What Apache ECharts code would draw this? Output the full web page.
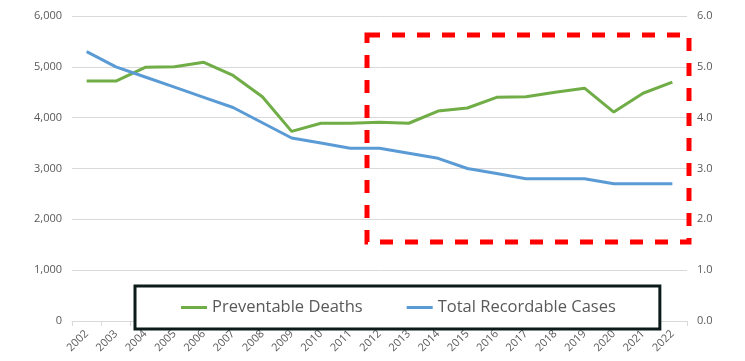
<!DOCTYPE html>
<html><head><meta charset="utf-8">
<script src="https://cdn.jsdelivr.net/npm/echarts@6/dist/echarts.min.js"></script>
<style>html,body{margin:0;padding:0;background:#fff}#c{width:745px;height:361px}</style>
</head><body><div id="c"></div>
<script>
const years = ['2002','2003','2004','2005','2006','2007','2008','2009','2010','2011','2012','2013','2014','2015','2016','2017','2018','2019','2020','2021','2022'];
const preventableDeaths = [4720,4720,4990,5000,5090,4830,4410,3730,3890,3890,3910,3890,4130,4190,4400,4410,4500,4580,4110,4480,4700];
const totalRecordableCases = [5.3,5.0,4.8,4.6,4.4,4.2,3.9,3.6,3.5,3.4,3.4,3.3,3.2,3.0,2.9,2.8,2.8,2.8,2.7,2.7,2.7];

const chart = echarts.init(document.getElementById('c'), null, {renderer:'canvas'});
const font = 'Open Sans';
chart.setOption({
  animation:false,
  backgroundColor:'#fff',
  grid:{left:72,right:58,top:16,bottom:40,containLabel:false},
  xAxis:{type:'category',data:years,boundaryGap:true,
    axisLine:{lineStyle:{color:'#d9d9d9',width:1}},
    axisTick:{show:true,length:5,lineStyle:{color:'#d9d9d9'}},
    axisLabel:{rotate:45,color:'#595959',fontFamily:font,fontSize:11,margin:11,interval:0}},
  yAxis:[
    {type:'value',min:0,max:6000,interval:1000,
     axisLine:{show:false},axisTick:{show:false},
     splitLine:{lineStyle:{color:'#d9d9d9'}},
     axisLabel:{color:'#595959',fontFamily:font,fontSize:11,margin:10,
       formatter:v=>v.toLocaleString('en-US')}},
    {type:'value',min:0,max:6,interval:1,position:'right',
     axisLine:{show:false},axisTick:{show:false},splitLine:{show:false},
     axisLabel:{color:'#595959',fontFamily:font,fontSize:11,margin:10,
       formatter:v=>v.toFixed(1)}}
  ],
  legend:{left:135,top:286,orient:'horizontal',
    borderColor:'#0d1a1a',borderWidth:3,backgroundColor:'#fff',
    padding:[13,44,13,46],itemGap:44,itemWidth:26,itemHeight:3,icon:'rect',
    textStyle:{color:'#595959',fontFamily:font,fontSize:16.5},
    data:['Preventable Deaths','Total Recordable Cases']},
  series:[
    {name:'Preventable Deaths',type:'line',data:preventableDeaths,yAxisIndex:0,
     symbol:'none',lineStyle:{color:'#70ad47',width:3},itemStyle:{color:'#70ad47'}},
    {name:'Total Recordable Cases',type:'line',data:totalRecordableCases,yAxisIndex:1,
     symbol:'none',lineStyle:{color:'#5b9bd5',width:3},itemStyle:{color:'#5b9bd5'}}
  ],
  graphic:[{type:'rect',z:10,shape:{x:367,y:35,width:322,height:207},
    style:{fill:'none',stroke:'#ff0000',lineWidth:5,lineDash:[13,12]}}]
});
</script></body></html>
